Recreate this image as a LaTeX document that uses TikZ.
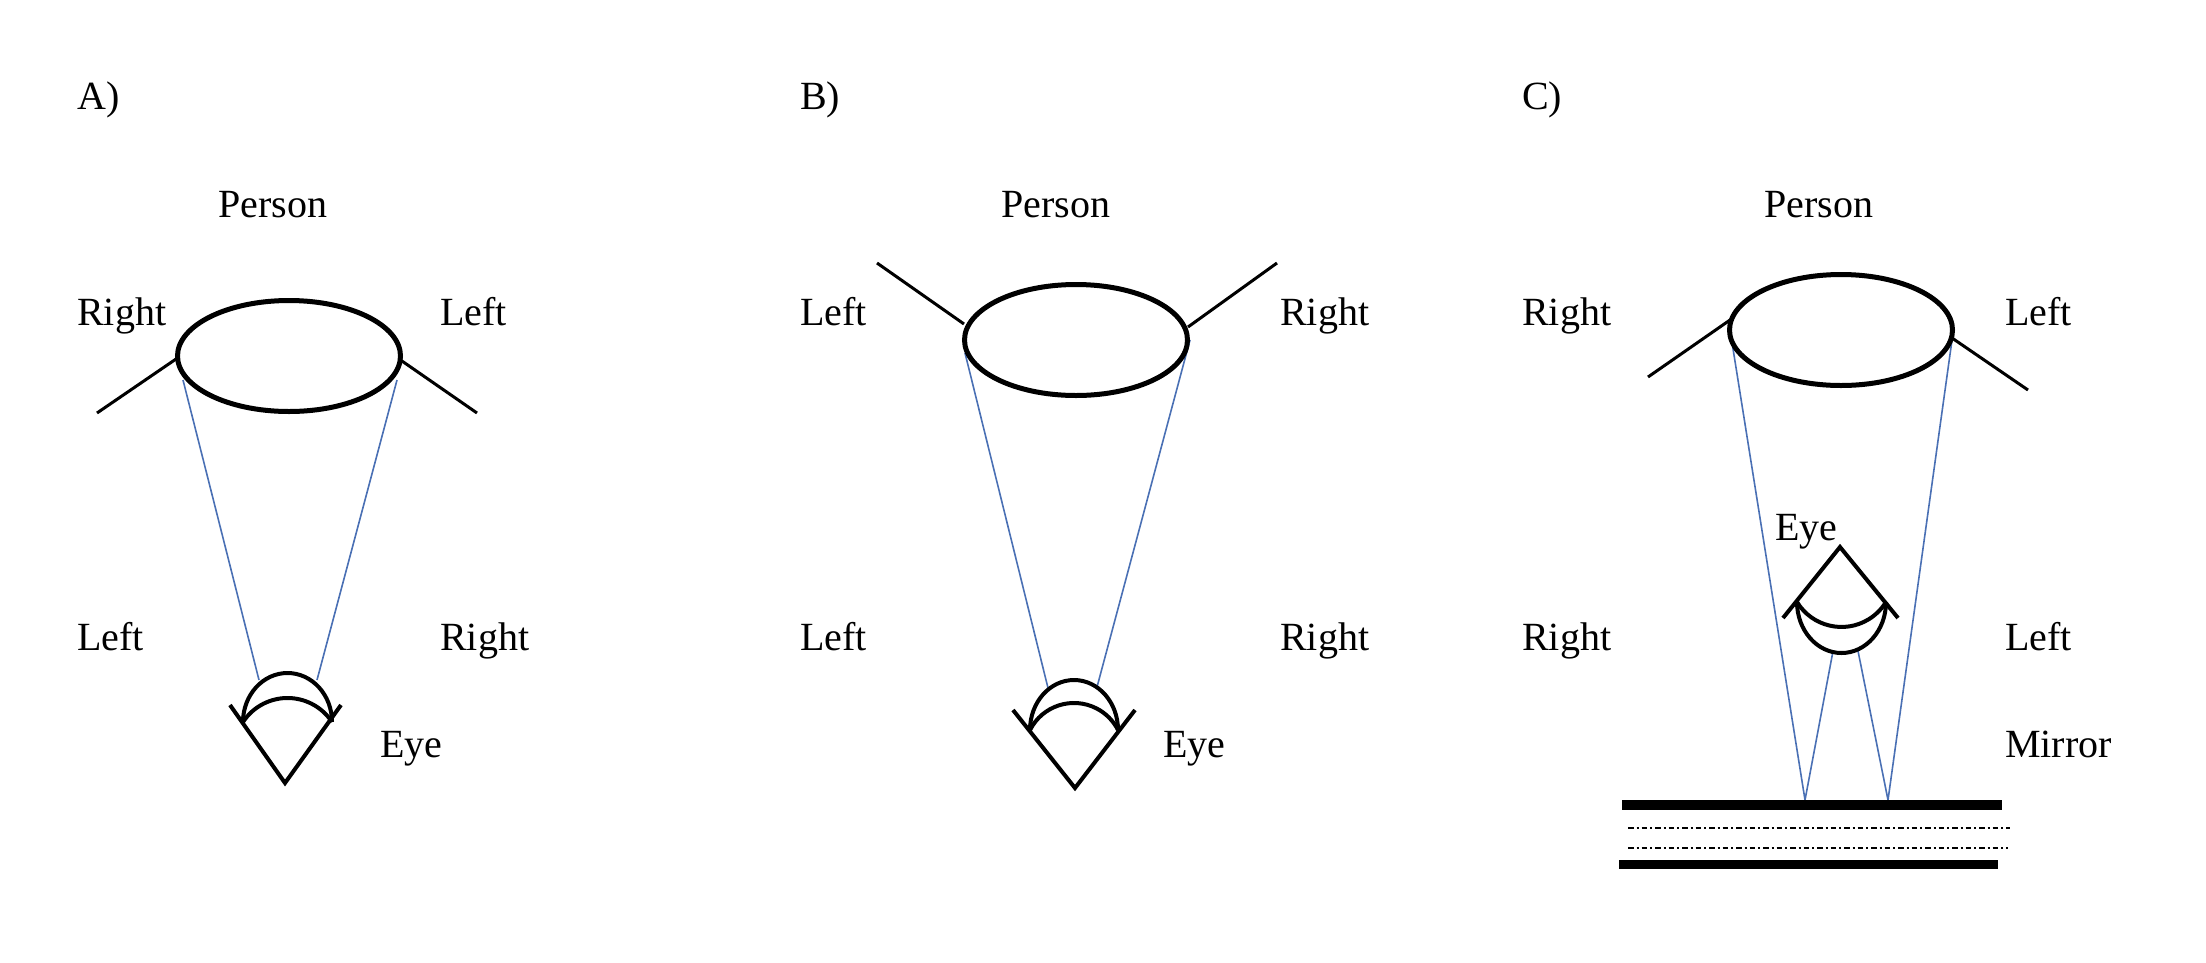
\documentclass[tikz,border=0pt]{standalone}
\usepackage{fontspec}
\setmainfont{Liberation Serif}
\definecolor{raycol}{RGB}{74,112,180}
\tikzset{
  lab/.style={font=\fontsize{40}{48}\selectfont, inner sep=0pt, anchor=base west},
  labc/.style={lab, anchor=base},
  headline/.style={line width=5pt},
  armline/.style={line width=3pt},
  rayline/.style={draw=raycol, line width=1.6pt},
  eyeline/.style={line width=4pt, line join=miter},
  mirrorbar/.style={line width=10pt},
  mirrordash/.style={line width=2.2pt, dash pattern=on 5.5pt off 3pt on 2pt off 3pt},
}
\begin{document}
\begin{tikzpicture}[x=1pt,y=-1pt]
\useasboundingbox (0,0) rectangle (2206,962);

% ---------------- A ----------------
\node[lab] (tA) at (77,109) {A)};
\node[labc] (pA) at (273,217) {Person};
\node[lab] (rA1) at (77,325) {Right};
\node[lab] (lA1) at (440,325) {Left};
\node[lab] (lA2) at (77,650) {Left};
\node[lab] (rA2) at (440,650) {Right};
\node[lab] (eA) at (380,757) {Eye};

\coordinate (hAc) at (289,356);
\coordinate (hAl) at (177.5,358);
\coordinate (hAr) at (400.5,360);
\coordinate (aAl) at (97,413);
\coordinate (aAr) at (477,413);
\coordinate (bAl) at (183,380);
\coordinate (bAr) at (397,380);
\coordinate (eAl) at (259,680);
\coordinate (eAr) at (317,680);

\draw[rayline] (bAl) -- (eAl);
\draw[rayline] (bAr) -- (eAr);
\draw[headline] (hAc) ellipse[x radius=111.5, y radius=55.5];
\draw[armline] (hAl) -- (aAl);
\draw[armline] (hAr) -- (aAr);

\coordinate (vA1) at (230,705);
\coordinate (vA0) at (285,783);
\coordinate (vA2) at (341,705);
\draw[eyeline] (vA1) -- (vA0) -- (vA2);
\draw[eyeline] (243,722) arc[start angle=-180, end angle=0, x radius=44.5, y radius=49];
\draw[eyeline] (243,722) arc[start angle=-146.7, end angle=-33.3, radius=53.25];

% ---------------- B ----------------
\node[lab] (tB) at (800,109) {B)};
\node[labc] (pB) at (1056,217) {Person};
\node[lab] (lB1) at (800,325) {Left};
\node[lab] (rB1) at (1280,325) {Right};
\node[lab] (lB2) at (800,650) {Left};
\node[lab] (rB2) at (1280,650) {Right};
\node[lab] (eB) at (1163,757) {Eye};

\coordinate (hBc) at (1076,340);
\coordinate (hBl) at (964,324);
\coordinate (hBr) at (1188,327);
\coordinate (aBl) at (877,263);
\coordinate (aBr) at (1277,263);
\coordinate (bBl) at (965,353);
\coordinate (bBr) at (1190,340);
\coordinate (eBl) at (1048,688);
\coordinate (eBr) at (1097,687);

\draw[rayline] (bBl) -- (eBl);
\draw[rayline] (bBr) -- (eBr);
\draw[headline] (hBc) ellipse[x radius=111.5, y radius=55.5];
\draw[armline] (hBl) -- (aBl);
\draw[armline] (hBr) -- (aBr);

\coordinate (vB1) at (1013,710);
\coordinate (vB0) at (1075,788);
\coordinate (vB2) at (1135,710);
\draw[eyeline] (vB1) -- (vB0) -- (vB2);
\draw[eyeline] (1030,730) arc[start angle=-180, end angle=0, x radius=44, y radius=50];
\draw[eyeline] (1030,730) arc[start angle=-153.1, end angle=-26.9, radius=49.35];

% ---------------- C ----------------
\node[lab] (tC) at (1522,109) {C)};
\node[labc] (pC) at (1819,217) {Person};
\node[lab] (rC1) at (1522,325) {Right};
\node[lab] (lC1) at (2005,325) {Left};
\node[lab] (rC2) at (1522,650) {Right};
\node[lab] (lC2) at (2005,650) {Left};
\node[lab] (mC) at (2005,757) {Mirror};
\node[lab] (eC) at (1775,540) {Eye};

\coordinate (hCc) at (1841,330);
\coordinate (hCl) at (1730,320);
\coordinate (hCr) at (1952,338);
\coordinate (aCl) at (1648,377);
\coordinate (aCr) at (2028,390);
\coordinate (bCl) at (1730,330);
\coordinate (bCr) at (1952,340);
\coordinate (mCl) at (1805,800);
\coordinate (mCr) at (1888,800);
\coordinate (iCl) at (1833,651);
\coordinate (iCr) at (1858,651);

\draw[rayline] (bCl) -- (mCl) -- (iCl);
\draw[rayline] (bCr) -- (mCr) -- (iCr);
\draw[headline] (hCc) ellipse[x radius=111.5, y radius=55.5];
\draw[armline] (hCl) -- (aCl);
\draw[armline] (hCr) -- (aCr);

\coordinate (vC1) at (1783,618);
\coordinate (vC0) at (1840,547);
\coordinate (vC2) at (1898,618);
\draw[eyeline] (vC1) -- (vC0) -- (vC2);
\draw[eyeline] (1797,602) arc[start angle=180, end angle=0, x radius=44.5, y radius=51];
\draw[eyeline] (1797,602) arc[start angle=148.6, end angle=31.4, radius=52.1];

% mirror
\coordinate (m1a) at (1622,805); \coordinate (m1b) at (2002,805);
\coordinate (m2a) at (1628,828); \coordinate (m2b) at (2010,828);
\coordinate (m3a) at (1628,848); \coordinate (m3b) at (2008,848);
\coordinate (m4a) at (1619,864); \coordinate (m4b) at (1998,864);
\draw[mirrorbar] (m1a) -- (m1b);
\draw[mirrordash] (m2a) -- (m2b);
\draw[mirrordash] (m3a) -- (m3b);
\draw[mirrorbar, line width=9pt] (m4a) -- (m4b);
\end{tikzpicture}
\end{document}
